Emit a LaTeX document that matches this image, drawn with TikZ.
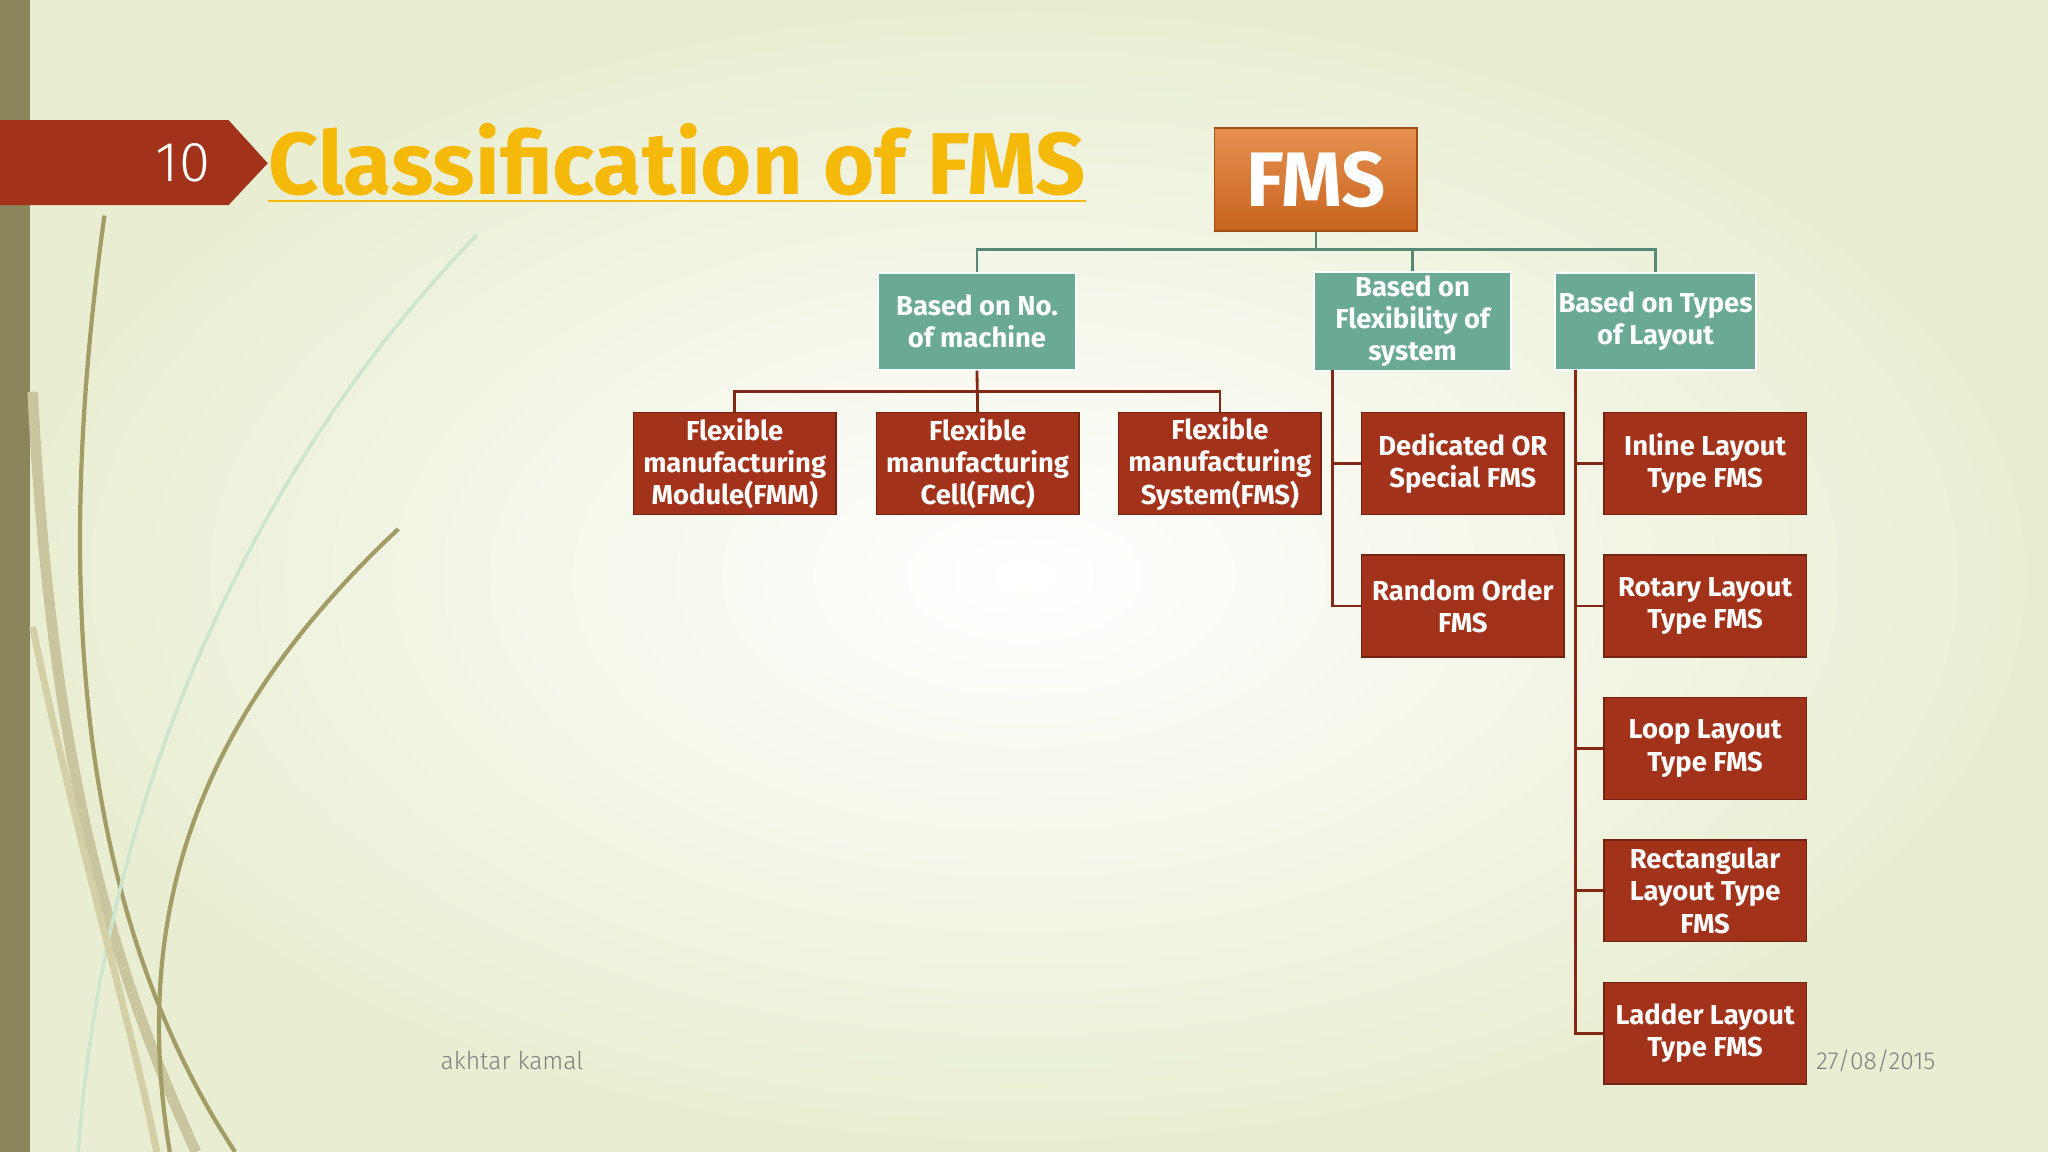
\documentclass[tikz,border=0pt]{standalone}
\usepackage{fontspec}
\setmainfont{Fira Sans}
\newfontfamily\thinf{Fira Sans Light}
\definecolor{boxred}{HTML}{A3321A}
\definecolor{boxteal}{HTML}{6AAA95}
\definecolor{titley}{HTML}{F5B90A}
\definecolor{bgout}{HTML}{E9EED2}
\definecolor{fmstop}{HTML}{E69050}
\definecolor{fmsbot}{HTML}{C8641E}
\begin{document}
\begin{tikzpicture}[x=0.01306cm,y=-0.01306cm,
 redbox/.style={draw=boxred!70!black,fill=boxred,text=white,minimum width=155*0.01306cm,minimum height=78*0.01306cm,align=center,inner sep=1pt,font=\fontsize{7.8}{9.2}\selectfont\bfseries},
 tealbox/.style={draw=white,line width=0.6pt,fill=boxteal,text=white,minimum width=151*0.01306cm,minimum height=74*0.01306cm,align=center,inner sep=1pt,font=\fontsize{7.8}{9.2}\selectfont\bfseries},
 tline/.style={draw=boxteal!80!black,line width=0.8pt},
 rline/.style={draw=boxred!80!black,line width=0.8pt}]
\useasboundingbox (0,0) rectangle (1568,882);
\shade[inner color=white,outer color=bgout] (0,0) rectangle (1568,882);
\fill[olive!50!black!70] (0,0) rectangle (23,882);
% decorative curves
\draw[olive!60!black!60,line width=1.2pt] (80,165) .. controls (40,450) and (60,700) .. (180,882);
\draw[olive!40!gray!50,line width=3pt] (25,300) .. controls (40,600) and (90,750) .. (150,882);
\draw[olive!60!black!60,line width=1.2pt] (305,405) .. controls (150,550) and (100,700) .. (130,882);
\draw[green!30!gray!30,line width=1pt] (365,180) .. controls (200,350) and (80,600) .. (60,882);
\draw[olive!50!gray!40,line width=2pt] (25,480) .. controls (60,650) and (100,780) .. (120,882);
% tab
\fill[boxred] (0,92) -- (175,92) -- (205,125) -- (175,157) -- (0,157) -- cycle;
\node[text=white,font=\fontsize{16}{18}\selectfont\thinf] (num) at (140,125) {10};
\node[anchor=west,text=titley,font=\fontsize{25}{28}\selectfont\bfseries,inner sep=0pt] (title) at (205,125) {\underline{Classification of FMS}};
% boxes
\node[draw=fmsbot!80!black,top color=fmstop,bottom color=fmsbot,text=white,minimum width=155*0.01306cm,minimum height=79*0.01306cm,font=\fontsize{22}{24}\selectfont\bfseries] (fms) at (1007.5,137.5) {FMS};
\node[tealbox] (b1) at (748,246) {Based on No.\\of machine};
\node[tealbox] (b2) at (1081.5,246) {Based on\\Flexibility of\\system};
\node[tealbox] (b3) at (1267.5,246) {Based on Types\\of Layout};
\node[redbox] (m1) at (562.5,355) {Flexible\\manufacturing\\Module(FMM)};
\node[redbox] (m2) at (748.5,355) {Flexible\\manufacturing\\Cell(FMC)};
\node[redbox] (m3) at (934,355) {Flexible\\manufacturing\\System(FMS)};
\node[redbox] (f1) at (1120,355) {Dedicated OR\\Special FMS};
\node[redbox] (f2) at (1120,464) {Random Order\\FMS};
\node[redbox] (l1) at (1305.5,355) {Inline Layout\\Type FMS};
\node[redbox] (l2) at (1305.5,464) {Rotary Layout\\Type FMS};
\node[redbox] (l3) at (1305.5,573) {Loop Layout\\Type FMS};
\node[redbox] (l4) at (1305.5,682) {Rectangular\\Layout Type\\FMS};
\node[redbox] (l5) at (1305.5,791) {Ladder Layout\\Type FMS};
% connectors
\coordinate (tj) at (1007.5,191);
\draw[tline] (fms.south) -- (tj);
\draw[tline] (b1.north) |- (tj) -| (b3.north);
\draw[tline] (tj) -| (b2.north);
\coordinate (rj) at (748,300);
\draw[rline] (b1.south) -- (m2.north);
\draw[rline] (m1.north) |- (rj) -| (m3.north);
\coordinate (fx) at (1020,283);
\draw[rline] (fx) |- (f2.west);
\draw[rline] (1020,355) -- (f1.west);
\coordinate (lx) at (1206,283);
\draw[rline] (lx) |- (l5.west);
\foreach \n in {l1,l2,l3,l4} \draw[rline] (1206,0 |- \n.west) -- (\n.west);
% footer
\node[text=gray,font=\fontsize{7}{8}\selectfont\thinf] (ft1) at (392,812) {akhtar kamal};
\node[anchor=west,inner sep=0pt,text=gray,font=\fontsize{7}{8}\selectfont\thinf] (ft2) at (1390,812) {27/08/2015};
\end{tikzpicture}
\end{document}
